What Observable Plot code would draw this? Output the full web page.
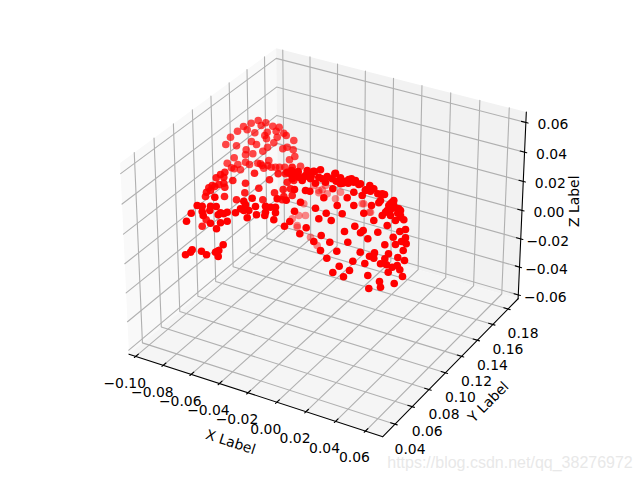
<!DOCTYPE html>
<html><head><meta charset="utf-8">
<style>html,body{margin:0;padding:0;background:#fff}svg{display:block}</style>
<script src="https://cdn.jsdelivr.net/npm/d3@7"></script>
<script src="https://cdn.jsdelivr.net/npm/@observablehq/plot@0.6"></script>
</head><body><div id="chart"></div>
<script>
const xTicks = [-0.10,-0.08,-0.06,-0.04,-0.02,0.00,0.02,0.04,0.06];
const yTicks = [0.04,0.06,0.08,0.10,0.12,0.14,0.16,0.18];
const zTicks = [-0.06,-0.04,-0.02,0.00,0.02,0.04,0.06];
const xLimits = [-0.1049,0.0715];
const yLimits = [0.026,0.1935];
const zLimits = [-0.0628,0.067];
const view = {u:[0.866,0.5,0], v:[-0.25,0.433,0.866], n:[0.433,-0.75,0.5], box:[1.1429,1.1429,0.857], dist:10, scale:2545, cx:326.5, cy:233};

// scatter positions, in picture units
const cloudDim = [[257.7,120],[250.7,122.7],[243,126],[237,130.7],[230,136.7],[225.3,144],[236,145.3],[246.7,129.3],[254.3,132.3],[260.7,125],[265.3,122.3],[272.3,125.7],[278.7,126.7],[266.7,131.7],[264.3,135],[275.7,130.7],[283.3,132.7],[285.7,135],[276.7,136.7],[251,141],[256,144],[266,138.3],[273.3,142.3],[267,146.7],[262.3,150.7],[245.7,149.3],[252.3,153.3],[245,154.3],[233.7,157.3],[282.3,148.3],[286.7,146.7],[293.3,140],[292.7,149.3],[289,159.3],[294.3,156],[268.3,160],[226.7,162.7],[237.3,164],[245,161.7],[249,164],[257.3,162.7],[260,163.3],[261.7,165],[267.3,165],[275,166.7],[279,166.7],[284.3,166.7],[231,167.3],[233.7,168.3],[240,169.3],[263.3,167.7],[270.7,166.7],[300,165.7]];
const cloudMid = [[254,172.7],[277.7,173.3],[224.3,171.7],[220,174],[215.7,177.3],[223.3,176.7],[232.3,180],[245,182.7],[269,179.3],[224.3,186.7],[218.3,184],[211.7,185],[208.3,187.3],[206,191.7],[205,196],[210,190],[214.3,186],[223.3,182.7],[258.3,187.7],[244.3,192.3],[224,196],[236,199.3],[262.3,199.3],[274,192.3],[282.7,189],[286.7,181.7],[293.3,180],[290,188.3],[291.7,195],[283.3,196],[281.7,199.3],[285,173.3],[291.7,166.7],[205.7,219.3],[201.7,225.7]];
const cloudPale = [[318.3,190],[313.3,185],[326.7,193.3],[335,198.3],[340,191.7],[303.3,203.3],[298.3,215],[291.7,218.3],[305,215],[296.7,225],[370,211.7],[361.7,203.3],[316.7,245],[310,236.7],[296.7,226.7],[325,185],[318.3,192.3],[321.7,189.3],[363.3,203.3],[369,211.7]];
const cloudSolid = [[214.3,196.7],[243.3,200.7],[251.7,197.7],[276.7,198.3],[285.7,199.7],[196.7,205],[201.7,205.7],[210,205.7],[215.7,206],[245,204.3],[255,206],[265,205.7],[270,206.7],[275,206.7],[201.7,211],[209.3,210],[220,212.3],[226.7,211.7],[235,212.3],[243.3,210],[248.3,210],[240,208.3],[190.7,212.7],[223.3,213.3],[217.7,214.3],[202.7,215],[246.7,217.3],[256,214.3],[264.3,215],[275,212.3],[265,211.7],[273.3,219.3],[186,220.7],[210,222.7],[220,222.3],[226.7,220.7],[216,228.3],[289.3,221],[284,225.7],[222.7,244.3],[191.7,249.3],[190,251.7],[185,254.3],[201,250.7],[206,254.3],[216.7,251],[218.3,250],[217.7,256],[215,251.7],
[291,170],[295,175],[297.3,172.7],[306.7,170],[314,171],[310.7,175.7],[303.3,176.7],[301.7,180],[326.7,176],[321.7,178.3],[334.3,173.3],[331.7,178.3],[339.3,180],[340,183.3],[345,180.7],[348.3,179],[353.3,181.7],[360,183.3],[369.3,185],[365,189.3],[371.7,188.3],[377.3,193.3],[384,194],[380,200],[391.7,201.7],[388.3,205],[393.3,205],[398.3,208.3],[397.3,212.7],[403.3,219.3],[400,216.7],[390,209.3],[385,211.7],[381.7,215],[373.3,220],[386.7,225],
[294,189],[305,190],[309.3,190.7],[332.3,188.3],[323.3,197.3],[336.7,205],[346.7,197.3],[353.3,191.7],[361.7,195],[353.3,205],[371,205],[363.3,212.7],[341.7,213.3],[325.7,212.7],[315,207.7],[294,210.7],[318.3,218.3],[330.7,220],[300,201.7],
[299.3,233.3],[305.7,227.3],[313.3,241],[320.7,235],[329.3,241.7],[320,250],[336.3,250.7],[326.3,257.7],[344,231],[354.3,225.7],[360,232.3],[362.7,230],[347.3,241.7],[367.3,238.3],[377.3,231.7],[399.3,231],[405,229],[392.7,236.7],[384.3,244.3],[395,244],[401,241],[405,237.3],[405.7,243.3],[402.7,250],[359.7,251.7],[369,255.7],[374,252.3],[373.3,257.7],[388,253.3],[384.3,258.3],[397.3,257],[404,260],[352.3,260.7],[364.3,263],[380,263.3],[386,264.3],[391.7,266.7],[396.7,265],[399.3,269.3],[387.7,271.7],[402,276],[338.7,265.7],[349,270],[332.3,272],[343,276.3],[367.3,275],[379,281],[380,286.7],[393.7,283],[368.3,288],
[286.7,171.7],[290,173.3],[297.7,171],[298.3,176.7],[291.7,178.3],[313,170.7],[320,169.3],[335,172.7],[340,177.3],[318.3,176.7],[310,178.3],[315,182.7],[325,181.7],[335.7,180.7],[342.3,182.7],[305,175],[351,178.3],[355,180],[347.7,182.7],[358.3,184],[373.3,188.3],[365,190],[370,190.7],[381.7,193.3],[378.3,202.3],[393.3,200],[390,203.3],[386.7,210],[396.7,208.3],[400,210],[400,215],[390,215],[395,220]];

const [x0,x1]=xLimits,[y0,y1]=yLimits,[z0,z1]=zLimits;
function P(x,y,z){
  const p=[((x-x0)/(x1-x0)-0.5)*view.box[0],((y-y0)/(y1-y0)-0.5)*view.box[1],((z-z0)/(z1-z0)-0.5)*view.box[2]];
  const dot=a=>a[0]*p[0]+a[1]*p[1]+a[2]*p[2];
  const w=view.dist-dot(view.n);
  return {px:view.cx+view.scale*dot(view.u)/w, py:view.cy-view.scale*dot(view.v)/w};
}
const fmt=d3.format(".2f");
const label=v=>fmt(v).replace("-","\u2212");
const path=(pts,key)=>pts.map(p=>({...P(...p),key}));
const lineOpts=(o)=>({x:"px",y:"py",curve:"linear",...o});
const paneX=path([[x0,y0,z0],[x0,y1,z0],[x0,y1,z1],[x0,y0,z1],[x0,y0,z0]]);
const paneY=path([[x0,y1,z0],[x1,y1,z0],[x1,y1,z1],[x0,y1,z1],[x0,y1,z0]]);
const paneZ=path([[x0,y0,z0],[x1,y0,z0],[x1,y1,z0],[x0,y1,z0],[x0,y0,z0]]);
const grid=[
  ...xTicks.flatMap((t,i)=>path([[t,y0,z0],[t,y1,z0],[t,y1,z1]],"x"+i)),
  ...yTicks.flatMap((t,i)=>path([[x1,t,z0],[x0,t,z0],[x0,t,z1]],"y"+i)),
  ...zTicks.flatMap((t,i)=>path([[x0,y0,t],[x0,y1,t],[x1,y1,t]],"z"+i))
];
const dx=(x1-x0)/12,dy=(y1-y0)/12;
const ticks=[
  ...xTicks.flatMap((t,i)=>path([[t,y0+0.2*dy,z0],[t,y0-0.1*dy,z0]],"x"+i)),
  ...yTicks.flatMap((t,i)=>path([[x1-0.2*dx,t,z0],[x1+0.1*dx,t,z0]],"y"+i)),
  ...zTicks.flatMap((t,i)=>path([[x1-0.2*dx,y1,t],[x1+0.1*dx,y1,t]],"z"+i))
];
const axes=[...path([[x0,y0,z0],[x1,y0,z0]],"x"),...path([[x1,y0,z0],[x1,y1,z0]],"y"),...path([[x1,y1,z0],[x1,y1,z1]],"z")];
const xLabels=xTicks.map(t=>({...P(t,y0,z0),t:label(t)}));
const yLabels=yTicks.map(t=>({...P(x1,t,z0),t:label(t)}));
const zLabels=zTicks.map(t=>({...P(x1,y1,t),t:label(t)}));
const dots=(pts,op)=>Plot.dot(pts,{x:d=>d[0],y:d=>d[1],r:3.8,fill:"#ff0000",stroke:"none",fillOpacity:op});
const font={fontFamily:"DejaVu Sans",fontSize:13.9,fill:"#000",text:"t",x:"px",y:"py"};
const chart=Plot.plot({
  width:640,height:480,margin:0,
  x:{domain:[0,640],range:[0,640],axis:null},
  y:{domain:[0,480],range:[0,480],axis:null},
  style:{background:"#fff"},
  marks:[
    Plot.line(paneX,lineOpts({fill:"#f9f9f9",stroke:"none"})),
    Plot.line(paneY,lineOpts({fill:"#f2f2f2",stroke:"none"})),
    Plot.line(paneZ,lineOpts({fill:"#f5f5f5",stroke:"none"})),
    Plot.line(grid,lineOpts({z:"key",stroke:"#b0b0b0",strokeWidth:1.1})),
    Plot.line(ticks,lineOpts({z:"key",stroke:"#000",strokeWidth:1.1})),
    Plot.line(axes,lineOpts({z:"key",stroke:"#000",strokeWidth:1.1})),
    dots(cloudPale,0.45),dots(cloudDim,0.72),dots(cloudMid,0.88),dots(cloudSolid,1),
    Plot.text(xLabels,{...font,dx:-11,dy:27}),
    Plot.text(yLabels,{...font,dx:15,dy:25}),
    Plot.text(zLabels,{...font,dx:27,dy:2.5}),
    Plot.text([{px:230,py:441.7,t:"X Label"}],{...font,rotate:18}),
    Plot.text([{px:488,py:401.7,t:"Y Label"}],{...font,rotate:-45}),
    Plot.text([{px:574,py:200.7,t:"Z Label"}],{...font,rotate:-90}),
    Plot.text([{px:509.5,py:462,t:"https://blog.csdn.net/qq_38276972"}],{...font,fontFamily:"Liberation Sans",fontSize:16,fill:"#e2e2e2",fillOpacity:0.8})
  ]
});
document.getElementById("chart").appendChild(chart);
</script></body></html>
